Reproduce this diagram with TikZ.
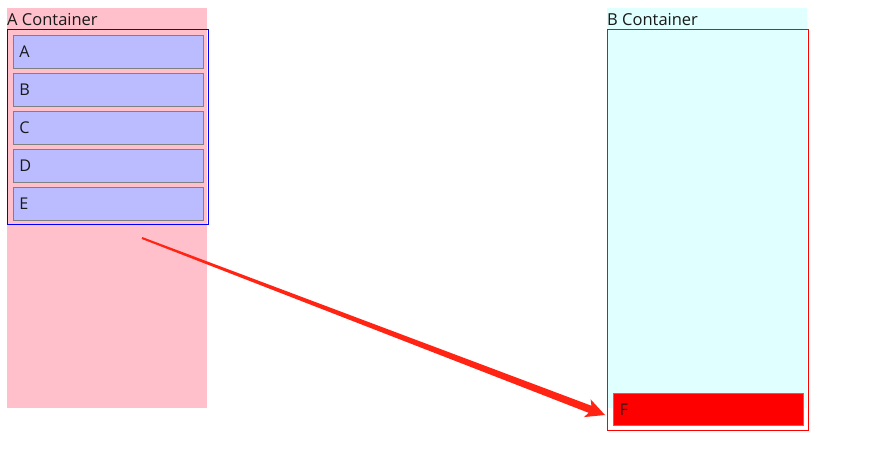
\documentclass[tikz,border=0pt]{standalone}
\usepackage{fontspec}
\setmainfont{Open Sans}
\usetikzlibrary{calc}
\definecolor{pinkbg}{HTML}{FFC0CB}
\definecolor{cyanbg}{HTML}{E0FFFF}
\definecolor{itemfill}{HTML}{BBBBFF}
\definecolor{itemborder}{HTML}{808080}
\definecolor{arrowred}{RGB}{255,36,20}
\begin{document}
\begin{tikzpicture}[x=1pt,y=-1pt,
  itembox/.style={draw=itemborder, line width=1pt, fill=itemfill, anchor=north west,
    minimum width=189.4pt, minimum height=32.4pt, text width=178pt, inner xsep=5.7pt,
    inner ysep=0pt, align=left, font=\fontsize{16.2}{18}\selectfont, text=black!90},
  title/.style={anchor=base west, inner sep=0pt, font=\fontsize{16.5}{18}\selectfont, text=black!90}
]
\useasboundingbox[fill=white] (0,0) rectangle (894,458);
% A container
\fill[pinkbg] (7,8) rectangle (207,408);
\node[title] (atitle) at (7,25) {A Container};
\draw[blue, line width=1pt] (7.8,29.8) rectangle (208.2,224.8);
\node[itembox] (A) at (13.3,35.3) {A};
\node[itembox] (B) at (13.3,73.3) {B};
\node[itembox] (C) at (13.3,111.3) {C};
\node[itembox] (D) at (13.3,149.3) {D};
\node[itembox] (E) at (13.3,187.3) {E};
% B container
\fill[cyanbg] (607,8) rectangle (807,408);
\node[title] (btitle) at (607,25) {B Container};
\draw[red, line width=1pt] (607.8,29.8) rectangle (808.2,430.3);
\node[itembox, fill=red] (F) at (613.3,392.7) {F};
% arrow
\coordinate (S) at (142,238);
\coordinate (T) at (605,415);
\coordinate (M) at ($(T)!16pt!(S)$);
\coordinate (H) at ($(T)!19pt!(S)$);
\fill[arrowred]
  ($(S)!1pt!90:(T)$) -- ($(M)!3.8pt!-90:(S)$) -- ($(H)!9.5pt!-90:(S)$) -- (T)
  -- ($(H)!9.5pt!90:(S)$) -- ($(M)!3.8pt!90:(S)$) -- ($(S)!1pt!-90:(T)$) -- cycle;
\end{tikzpicture}
\end{document}
